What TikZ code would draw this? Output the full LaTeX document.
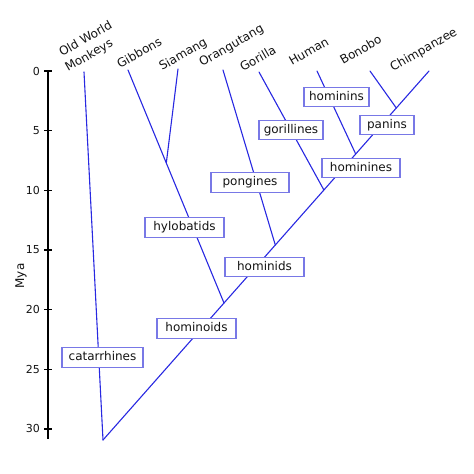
\documentclass[tikz,border=0pt]{standalone}
\usepackage{fontspec}
\setmainfont{DejaVu Sans}
\definecolor{treec}{RGB}{40,40,225}
\definecolor{boxc}{RGB}{120,120,230}
\definecolor{txtc}{RGB}{20,20,20}
\tikzset{
  branch/.style={draw=treec, line width=1.1pt, line cap=round, line join=round},
  clade/.style={draw=boxc, fill=white, line width=1.1pt, inner xsep=0pt, inner ysep=0pt,
    minimum height=19.5pt, text height=9pt, text depth=2.6pt, text=txtc,
    font=\fontsize{12pt}{14pt}\selectfont},
  leaf/.style={anchor=base west, rotate=30, inner sep=0pt, text=txtc,
    font=\fontsize{12pt}{14pt}\selectfont},
  axisline/.style={draw=black, line width=2pt},
  tickmark/.style={draw=black, line width=1.2pt},
  ticklabel/.style={anchor=east, inner sep=0pt, text=txtc, font=\fontsize{11pt}{13pt}\selectfont},
}
\begin{document}
\begin{tikzpicture}[x=1pt,y=-1pt]
\useasboundingbox (0,0) rectangle (474,474);
% tree points
\coordinate (root) at (103,440);
\coordinate (hominoid) at (224,303);
\coordinate (hominid) at (275.3,245);
\coordinate (homininae) at (323.9,190);
\coordinate (hominini) at (355.7,154);
\coordinate (pan) at (396.3,108);
\coordinate (hylo) at (166.3,163);
% leaf tops
\coordinate (owm) at (84,72);
\coordinate (gibbon) at (128,70);
\coordinate (siamang) at (178,69);
\coordinate (orang) at (223,70);
\coordinate (gorilla) at (259,72);
\coordinate (human) at (317,71);
\coordinate (bonobo) at (370,71);
\coordinate (chimp) at (429,71);
% branches
\draw[branch] (owm) -- (root);
\draw[branch] (root) -- (hominoid) -- (hominid) -- (homininae) -- (hominini) -- (pan) -- (chimp);
\draw[branch] (gibbon) -- (hylo) -- (hominoid);
\draw[branch] (siamang) -- (hylo);
\draw[branch] (orang) -- (hominid);
\draw[branch] (gorilla) -- (homininae);
\draw[branch] (human) -- (hominini);
\draw[branch] (bonobo) -- (pan);
% clade boxes
\node[clade, minimum width=65pt] (hominins) at (336.5,97) {hominins};
\node[clade, minimum width=54pt] (panins) at (387,125) {panins};
\node[clade, minimum width=78pt] (hominines) at (361,168) {hominines};
\node[clade, minimum width=64pt] (gorillines) at (291,130) {gorillines};
\node[clade, minimum width=78pt] (pongines) at (250,182.5) {pongines};
\node[clade, minimum width=79pt] (hylobatids) at (184.5,227.5) {hylobatids};
\node[clade, minimum width=79pt] (hominids) at (264.5,267) {hominids};
\node[clade, minimum width=79pt] (hominoids) at (196.5,328.5) {hominoids};
\node[clade, minimum width=81pt] (catarrhines) at (102.5,357.5) {catarrhines};
% leaf labels
\node[leaf] (lold) at (62,57) {Old World};
\node[leaf] (lmonk) at (68,72) {Monkeys};
\node[leaf] (lgib) at (120,69) {Gibbons};
\node[leaf] (lsia) at (162,71) {Siamang};
\node[leaf] (lora) at (202,67) {Orangutang};
\node[leaf] (lgor) at (243,72) {Gorilla};
\node[leaf] (lhum) at (292,66) {Human};
\node[leaf] (lbon) at (343,65) {Bonobo};
\node[leaf] (lchi) at (393,72) {Chimpanzee};
% axis
\coordinate (atop) at (47.5,70.5);
\coordinate (abot) at (47.5,439);
\draw[axisline] (atop) -- (abot);
\foreach \v [count=\i] in {0,5,10,15,20,25,30} {
  \coordinate (tl\i) at (44,71+11.93*\v);
  \coordinate (tr\i) at (51.5,71+11.93*\v);
  \draw[tickmark] (tl\i) -- (tr\i);
  \node[ticklabel] (tk\i) at (40,71+11.93*\v) {\v};
}
\node[rotate=90, inner sep=0pt, text=txtc, font=\fontsize{12pt}{14pt}\selectfont] (mya) at (21,276) {Mya};
\end{tikzpicture}
\end{document}
